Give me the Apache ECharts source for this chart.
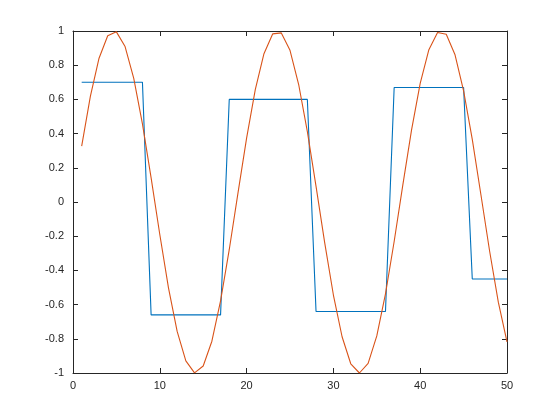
<!DOCTYPE html>
<html>
<head>
<meta charset="utf-8">
<script src="https://cdn.jsdelivr.net/npm/echarts@6/dist/echarts.min.js"></script>
<style>html,body{margin:0;padding:0;background:#fff;}#c{width:560px;height:420px;}</style>
</head>
<body>
<div id="c"></div>
<script>
var xValues = [1,2,3,4,5,6,7,8,9,10,11,12,13,14,15,16,17,18,19,20,21,22,23,24,25,26,27,28,29,30,31,32,33,34,35,36,37,38,39,40,41,42,43,44,45,46,47,48,49,50];
var stepValues = [0.70,0.70,0.70,0.70,0.70,0.70,0.70,0.70,
  -0.66,-0.66,-0.66,-0.66,-0.66,-0.66,-0.66,-0.66,-0.66,
  0.60,0.60,0.60,0.60,0.60,0.60,0.60,0.60,0.60,0.60,
  -0.64,-0.64,-0.64,-0.64,-0.64,-0.64,-0.64,-0.64,-0.64,
  0.67,0.67,0.67,0.67,0.67,0.67,0.67,0.67,0.67,
  -0.45,-0.45,-0.45,-0.45,-0.45];
var waveValues = [0.327,0.618,0.841,0.972,0.995,0.909,0.723,0.457,0.141,-0.190,
  -0.502,-0.757,-0.929,-0.999,-0.959,-0.814,-0.578,-0.279,0.050,0.374,
  0.657,0.867,0.983,0.989,0.887,0.687,0.412,0.091,-0.239,-0.544,
  -0.788,-0.946,-1.000,-0.944,-0.783,-0.537,-0.231,0.100,0.420,0.694,
  0.891,0.991,0.981,0.863,0.650,0.366,0.041,-0.288,-0.586,-0.818];
var xTicks = [0,10,20,30,40,50];
var yTicks = [-1,-0.8,-0.6,-0.4,-0.2,0,0.2,0.4,0.6,0.8,1];

function pairs(ys){ return xValues.map(function(x,i){ return [x, ys[i]]; }); }

var axisColor = '#262626';
var labelStyle = {color: axisColor, fontFamily: 'Liberation Sans, Arial, sans-serif', fontSize: 11};
function xAx(pos, show){
  return {type:'value', position: pos, min: xTicks[0], max: xTicks[xTicks.length-1], interval: 10,
    axisLine:{show:true, onZero:false, lineStyle:{color:axisColor, width:1}},
    axisTick:{show:true, inside:true, length:5, lineStyle:{color:axisColor}},
    axisLabel: Object.assign({show: show, margin: 7}, labelStyle),
    splitLine:{show:false}};
}
function yAx(pos, show){
  return {type:'value', position: pos, min: yTicks[0], max: yTicks[yTicks.length-1], interval: 0.2,
    axisLine:{show:true, onZero:false, lineStyle:{color:axisColor, width:1}},
    axisTick:{show:true, inside:true, length:5, lineStyle:{color:axisColor}},
    axisLabel: Object.assign({show: show, margin: 9, formatter: function(v){ return String(Math.round(v*10)/10); }}, labelStyle),
    splitLine:{show:false}};
}
var chart = echarts.init(document.getElementById('c'), null, {renderer:'canvas'});
chart.setOption({
  backgroundColor:'#fff',
  animation:false,
  grid:{left:73, right:53, top:31, bottom:47, containLabel:false},
  xAxis:[xAx('bottom', true), xAx('top', false)],
  yAxis:[yAx('left', true), yAx('right', false)],
  series:[
    {type:'line', data: pairs(stepValues), showSymbol:false, symbol:'none', lineStyle:{color:'#0072BD', width:1.1}, xAxisIndex:0, yAxisIndex:0},
    {type:'line', data: pairs(waveValues), showSymbol:false, symbol:'none', lineStyle:{color:'#D95319', width:1.1}, xAxisIndex:0, yAxisIndex:0}
  ]
});
</script>
</body>
</html>
